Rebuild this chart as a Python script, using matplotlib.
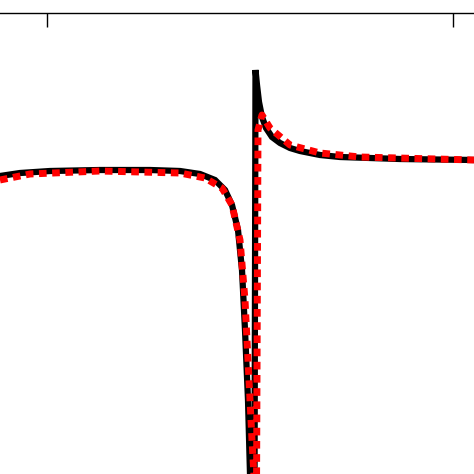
import matplotlib
matplotlib.use("Agg")
import matplotlib.pyplot as plt

H = 474
black_x = [0, 20, 50, 100, 150, 180, 200, 215, 225, 232, 238, 242, 245, 248, 250, 252, 254.5, 255.5, 257, 259, 262, 266, 272, 280, 290, 300, 320, 340, 400, 474]
black_y = [176, 173, 171, 170, 170, 171, 174, 180, 190, 205, 230, 270, 330, 400, 474, 495, 495, 70, 85, 102, 117, 128, 137, 143, 148, 151, 155, 157, 159, 160]
red_x = [0, 30, 100, 180, 205, 222, 232, 240, 245, 249, 252, 255, 256.5, 258, 262, 270, 290, 320, 360, 474]
red_y = [180, 174, 171, 173, 178, 188, 205, 240, 300, 380, 440, 495, 495, 130, 115, 128, 145, 153, 157, 160]
top_ticks = [47, 453]

fig = plt.figure(figsize=(4.74, 4.74), dpi=100)
ax = fig.add_axes([0, 0, 1, 1 - 13 / H])
ax.plot(black_x, [H - v for v in black_y], color="black", lw=4.5, solid_joinstyle="miter")
ax.plot(red_x, [H - v for v in red_y], color="red", lw=5, linestyle=(0, (1.1, 0.8)), dash_capstyle="butt")
ax.set_xlim(0, 474)
ax.set_ylim(0, H - 13)
for s in ["left", "right", "bottom"]:
    ax.spines[s].set_visible(False)
ax.spines["top"].set_linewidth(1)
ax.xaxis.tick_top()
ax.set_xticks(top_ticks)
ax.set_xticklabels([])
ax.tick_params(axis="x", direction="in", length=10, width=1)
ax.set_yticks([])
fig.savefig("out.png", dpi=100)
